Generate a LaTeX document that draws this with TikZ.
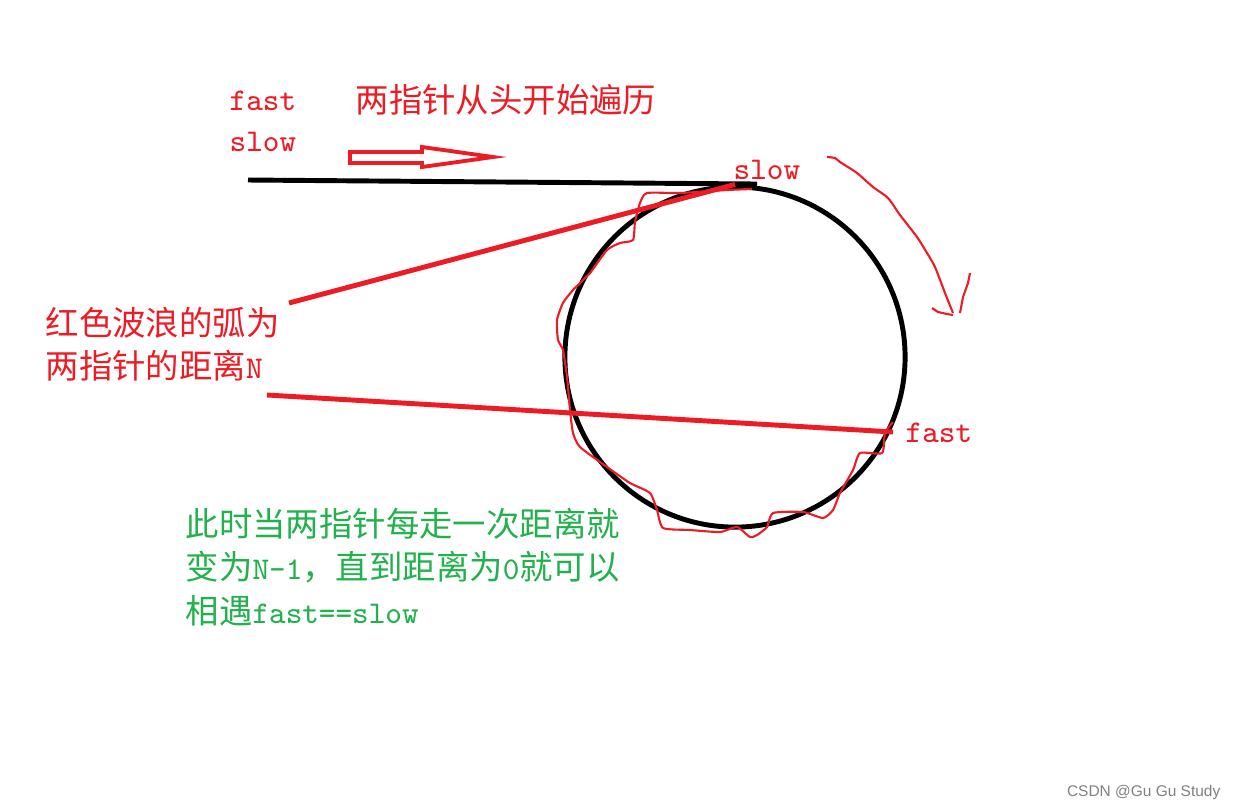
\documentclass[tikz,border=0pt]{standalone}
\usepackage{fontspec}
\newfontfamily\cjk{Noto Sans CJK SC}
\newfontfamily\wmfont{Liberation Sans}
\usetikzlibrary{positioning}
\definecolor{paintred}{RGB}{237,28,36}
\definecolor{paintgreen}{RGB}{34,177,76}
\newcommand{\latn}[1]{{\ttfamily\fontsize{9}{12.3}\selectfont #1}}
\newcommand{\zh}[1]{{\cjk #1}}

\begin{document}
\begin{tikzpicture}[x=0.01cm, y=-0.01cm,
  every node/.style={inner sep=0pt, anchor=west, font=\fontsize{9.5}{12.3}\selectfont},
  redtxt/.style={text=paintred, align=left},
  greentxt/.style={text=paintgreen, align=left},
  redline/.style={draw=paintred, line width=1.4pt},
  wave/.style={draw=paintred, line width=0.6pt, line join=round},
  node distance=0.25cm]
  \useasboundingbox (0,0) rectangle (1236,811);

  % texts
  \node (fasttop) [redtxt] at (229,101) {\latn{fast}};
  \node (slowtop) [redtxt, below=0.2cm of fasttop.south west, anchor=north west] {\latn{slow}};
  \node (start) [redtxt] at (355,100) {\zh{两指针从头开始遍历}};
  \node (arclabel) [redtxt] at (45,344) {\zh{红色波浪的弧为}\\\zh{两指针的距离}\latn{N}};
  \node (meet) [greentxt] at (185,567) {\zh{此时当两指针每走一次距离就}\\\zh{变为}\latn{N-1}\zh{，直到距离为}\latn{0}\zh{就可以}\\\zh{相遇}\latn{fast==slow}};

  % the loop
  \node (loop) [draw, circle, line width=1.4pt, minimum size=3.4cm, anchor=center] at (735,357) {};
  \node (slowpt) [redtxt] at (733,170) {\latn{slow}};
  \node (fastpt) [redtxt] at (905,433) {\latn{fast}};

  % straight part of the list
  \coordinate (head) at (248,180);
  \coordinate (tail) at (757,184);
  \draw[line width=1.4pt] (head) -- (tail);

  % hollow arrow
  \draw[paintred, line width=1.1pt, line join=miter] (350,152) -- (422,152) -- (422,147) -- (493,157)
    -- (422,167) -- (422,163) -- (350,163) -- cycle;

  % pointers from the label
  \coordinate (arcptr) at (289,303);
  \coordinate (distptr) at (267,395);
  \draw[redline] (arcptr) -- (loop.north);
  \draw[redline] (distptr) -- (893,432);

  % wavy arc
  \draw[wave] plot[smooth, tension=0.35] coordinates {(752,189) (727,190) (680,193) (647,193)
    (640,203) (635,222) (633,240) (620,243) (607,250) (590,273) (573,290) (563,303)
    (557,320) (558,340) (563,350) (567,377) (570,410) (573,433) (580,447) (607,467)
    (630,483) (650,493) (657,510) (663,528) (690,530) (720,532) (737,527) (750,537)
    (757,535) (767,527) (773,513) (803,512) (823,518) (833,510) (840,493) (853,470)
    (860,453) (882,453) (885,433) (893,422)};

  % direction sketch
  \draw[wave] plot[smooth, tension=0.4] coordinates {(827,157) (835,158) (840,162) (857,173)
    (873,187) (888,198) (900,215) (917,237) (927,253) (935,267) (945,293) (953,313)};
  \draw[wave] (932,308) -- (938,312) -- (947,314) -- (953,315);
  \draw[wave] (970,273) -- (968,283) -- (963,297) -- (960,313);

  \node (mark) [text=gray, anchor=east, font=\wmfont\fontsize{4.4}{5}\selectfont] at (1221,792) {CSDN @Gu Gu Study};
\end{tikzpicture}
\end{document}
